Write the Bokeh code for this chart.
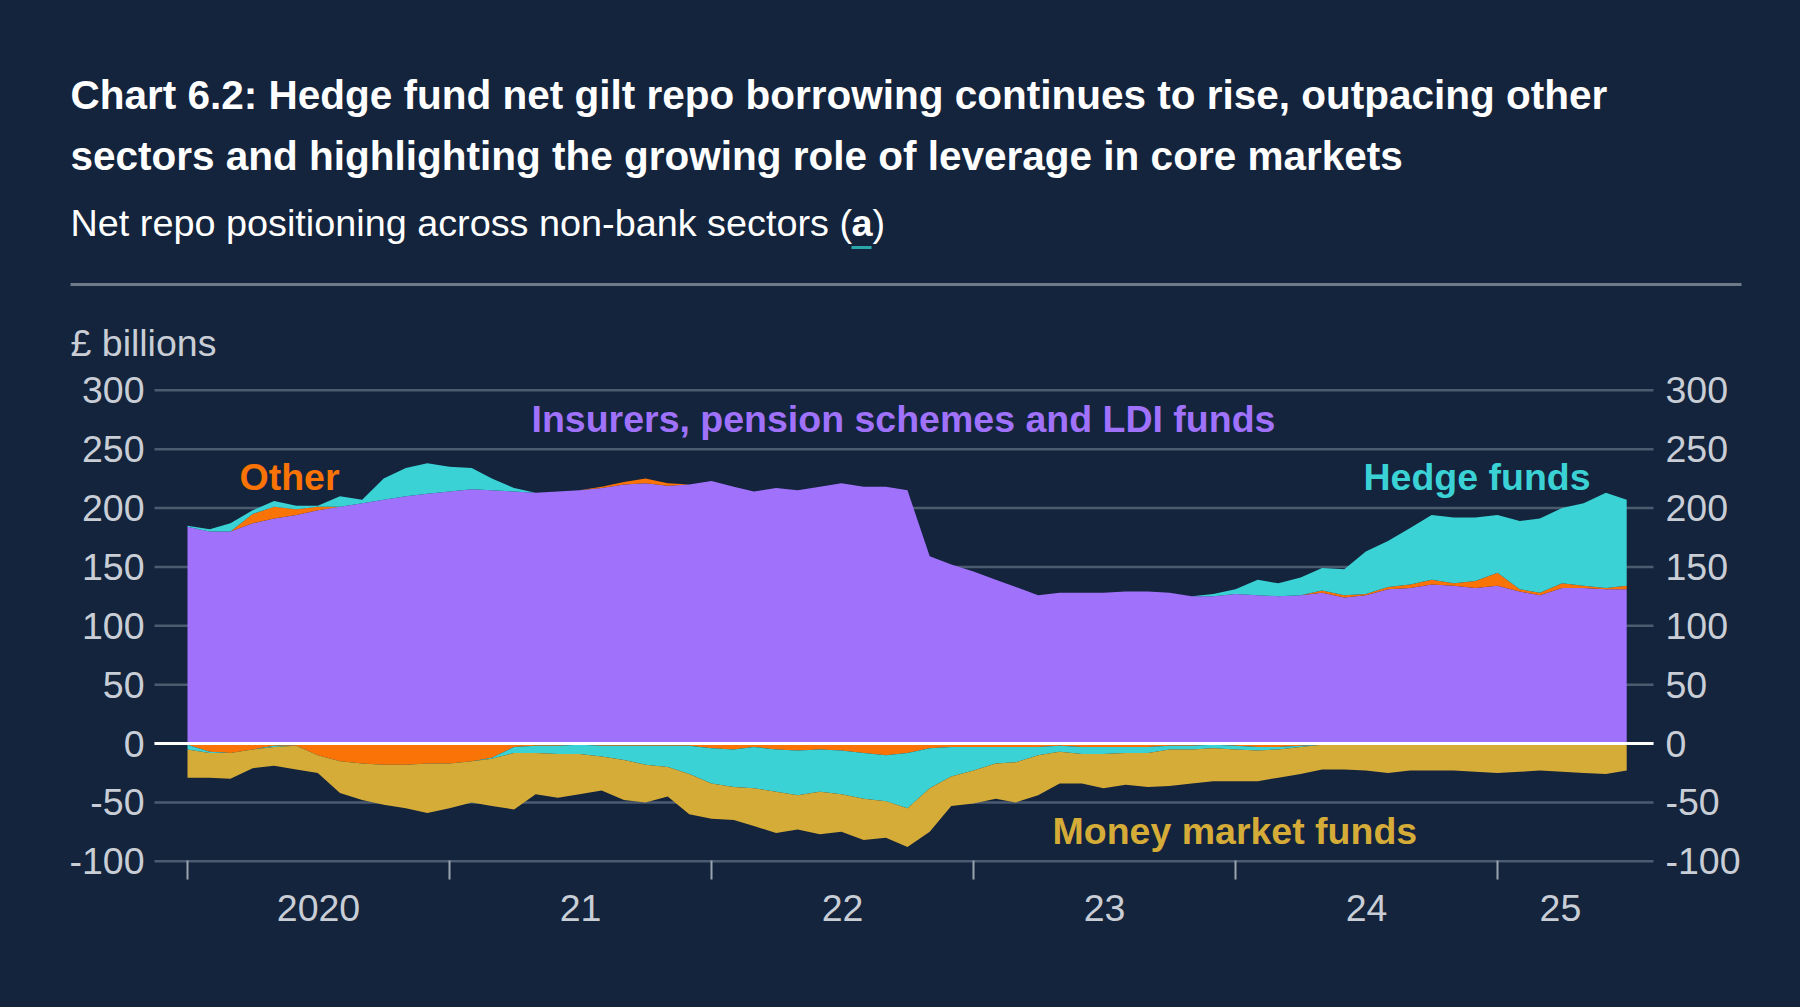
import pandas as pd

from bokeh.core.properties import value
from bokeh.embed import file_html
from bokeh.resources import INLINE
from bokeh.models import ColumnDataSource, Range1d
from bokeh.plotting import figure

# Monthly readings, Jan 2020 to end of Jun 2025, £ billions
dates = list(pd.date_range("2020-01-01", "2025-06-01", freq="MS")) + [pd.Timestamp("2025-06-30")]

# insurers, pension schemes and LDI funds (net borrowing, positive)
insurers = [184, 180, 180, 187, 191, 194, 198, 201, 204, 207, 210, 212,
            214, 216, 215, 214, 213, 214, 215, 217, 220, 221, 219, 220,
            223, 218, 214, 217, 215, 218, 221, 218, 218, 215, 159, 152,
            146, 139, 133, 126, 128, 128, 128, 129, 129, 128, 125, 125,
            127, 126, 125, 126, 128, 124, 126, 131, 132, 135, 134, 132,
            134, 129, 126, 132, 132, 131, 131]
other_pos = [0, 0, 0, 8, 10, 5, 3, 0, 0, 0, 0, 0,
             0, 0, 0, 0, 0, 0, 0, 1, 2, 4, 2, 0,
             0, 0, 0, 0, 0, 0, 0, 0, 0, 0, 0, 0,
             0, 0, 0, 0, 0, 0, 0, 0, 0, 0, 0, 0,
             0, 0, 0, 0, 2, 2, 1, 2, 3, 4, 2, 6,
             11, 2, 2, 4, 2, 1, 3]
hedge_pos = [1, 2, 7, 3, 5, 3, 1, 9, 3, 18, 24, 26,
             21, 18, 10, 3, 0, 0, 0, 0, 0, 0, 0, 0,
             0, 0, 0, 0, 0, 0, 0, 0, 0, 0, 0, 0,
             0, 0, 0, 0, 0, 0, 0, 0, 0, 0, 0, 2,
             4, 13, 11, 15, 19, 22, 36, 39, 48, 55, 56, 54,
             49, 58, 63, 64, 70, 81, 73]
other_neg = [-1, -7, -8, -5, -2, -2, -10, -15, -17, -18, -18, -17,
             -17, -15, -12, -3, -2, -2, -1, -2, -2, -2, -2, -2,
             -4, -5, -3, -5, -6, -5, -6, -8, -10, -8, -4, -3,
             -3, -3, -3, -3, -2, -3, -3, -3, -3, -2, -2, -1,
             -2, -3, -3, -2, -1, -1, 0, 0, 0, 0, 0, 0,
             0, 0, 0, 0, 0, 0, 0]
hedge_neg = [-4, -1, 0, 0, -1, 0, 0, 0, 0, 0, 0, 0,
             0, 0, -1, -5, -6, -7, -8, -9, -12, -16, -18, -24,
             -30, -32, -35, -36, -38, -36, -37, -39, -39, -47, -34, -25,
             -20, -14, -13, -7, -5, -6, -6, -5, -5, -3, -3, -3,
             -3, -3, -2, -1, 0, 0, 0, 0, 0, 0, 0, 0,
             0, 0, 0, 0, 0, 0, 0]
money_market = [-24, -21, -22, -16, -16, -20, -15, -27, -31, -34, -37, -42,
                -38, -35, -40, -48, -35, -37, -34, -29, -34, -32, -25, -34,
                -30, -28, -32, -35, -29, -36, -32, -35, -31, -33, -37, -25,
                -28, -30, -34, -34, -27, -25, -29, -27, -29, -31, -29, -28,
                -27, -26, -24, -23, -21, -21, -23, -25, -23, -23, -23, -24,
                -25, -24, -23, -24, -25, -26, -23]

y_ticks = [-100, -50, 0, 50, 100, 150, 200, 250, 300]
year_ticks = [2020, 2021, 2022, 2023, 2024, 2025]
year_labels = ["2020", "21", "22", "23", "24", "25"]
year_label_pos = [2020.5, 2021.5, 2022.5, 2023.5, 2024.5, 2025.24]

BG = "#13243c"
PURPLE = "#a072fc"
ORANGE = "#fa7306"
TEAL = "#3bd2d6"
GOLD = "#d6ac38"
GRID = "#4b5b70"
TICK_TEXT = "#c9ced6"
FONT = value("Liberation Sans")

W, H = 1792, 999
PX_PER_YEAR = 262.0
PX_PER_UNIT = 1.1775
X_2020 = 187.0      # pixel column of 1 Jan 2020
Y_ZERO = 743.0      # pixel row of the zero line
LEFT, RIGHT = 154, 1653  # extent of the gridlines

dt = pd.DatetimeIndex(dates)
xs = dt.year + (dt.dayofyear - 1) / (365 + dt.is_leap_year.astype(int))

source = ColumnDataSource(data=dict(
    x=list(xs), ins=insurers, oth_pos=other_pos, hf_pos=hedge_pos,
    oth_neg=other_neg, hf_neg=hedge_neg, mmf=money_market,
))

x0 = 2020 - X_2020 / PX_PER_YEAR
p = figure(width=W, height=H, title=None,
           x_range=Range1d(x0, x0 + W / PX_PER_YEAR),
           y_range=Range1d((Y_ZERO - H) / PX_PER_UNIT, Y_ZERO / PX_PER_UNIT),
           x_axis_type=None, y_axis_type=None, output_backend="svg",
           toolbar_location=None, min_border=0)
p.grid.visible = False
p.outline_line_color = None
p.background_fill_color = BG
p.border_fill_color = BG
# pixel ranges for layout items (titles, rules, tick text)
p.extra_x_ranges = {"px": Range1d(0, W)}
p.extra_y_ranges = {"py": Range1d(H, 0)}

# header
p.text(x=[70], y=[94], text=["Chart 6.2: Hedge fund net gilt repo borrowing continues to rise, outpacing other"],
       x_range_name="px", y_range_name="py", text_font=FONT, text_font_style="bold",
       text_font_size="40.5px", text_color="white", text_baseline="middle")
p.text(x=[70], y=[155], text=["sectors and highlighting the growing role of leverage in core markets"],
       x_range_name="px", y_range_name="py", text_font=FONT, text_font_style="bold",
       text_font_size="40.5px", text_color="white", text_baseline="middle")
p.text(x=[70], y=[222], text=["Net repo positioning across non-bank sectors ("],
       x_range_name="px", y_range_name="py", text_font=FONT, text_font_size="37.8px",
       text_color="white", text_baseline="middle")
p.text(x=[851], y=[222], text=["a"], x_range_name="px", y_range_name="py", text_font=FONT,
       text_font_style="bold", text_font_size="37.8px", text_color="white", text_baseline="middle")
p.text(x=[872], y=[222], text=[")"], x_range_name="px", y_range_name="py", text_font=FONT,
       text_font_size="37.8px", text_color="white", text_baseline="middle")
p.segment(x0=[851], y0=[247], x1=[871], y1=[247], x_range_name="px", y_range_name="py",
          line_color="#2aa7ab", line_width=3)
p.segment(x0=[70], y0=[284], x1=[1741], y1=[284], x_range_name="px", y_range_name="py",
          line_color="#6e7a88", line_width=3)

p.text(x=[70], y=[342], text=["£ billions"], x_range_name="px", y_range_name="py",
       text_font=FONT, text_font_size="37.5px", text_color=TICK_TEXT, text_baseline="middle")

# gridlines and value axes (both sides)
p.segment(x0=LEFT, x1=RIGHT, y0=y_ticks, y1=y_ticks, x_range_name="px",
          line_color=GRID, line_width=2.5)
tick_text = [str(t) for t in y_ticks]
p.text(x=[144] * len(y_ticks), y=y_ticks, text=tick_text, x_range_name="px",
       text_font=FONT, text_font_size="37.5px", text_color=TICK_TEXT,
       text_align="right", text_baseline="middle")
p.text(x=[1665] * len(y_ticks), y=y_ticks, text=tick_text, x_range_name="px",
       text_font=FONT, text_font_size="37.5px", text_color=TICK_TEXT,
       text_align="left", text_baseline="middle")

# stacked areas: borrowing above zero, lending below
p.varea_stack(stackers=["ins", "oth_pos", "hf_pos"], x="x",
              color=[PURPLE, ORANGE, TEAL], source=source)
p.varea_stack(stackers=["oth_neg", "hf_neg", "mmf"], x="x",
              color=[ORANGE, TEAL, GOLD], source=source)

p.segment(x0=[LEFT], x1=[RIGHT], y0=[0], y1=[0], x_range_name="px",
          line_color="white", line_width=3)

# year axis: ticks at year starts, labels mid-year
p.segment(x0=year_ticks, x1=year_ticks, y0=[860] * len(year_ticks), y1=[879] * len(year_ticks),
          y_range_name="py", line_color="#9aa4b0", line_width=2)
p.text(x=year_label_pos, y=[907] * len(year_labels), text=year_labels, y_range_name="py",
       text_font=FONT, text_font_size="37.5px", text_color=TICK_TEXT,
       text_align="center", text_baseline="middle")

# series labels
series_names = ["Insurers, pension schemes and LDI funds", "Other", "Hedge funds", "Money market funds"]
series_colors = [PURPLE, ORANGE, TEAL, GOLD]
label_px = [531, 239, 1363, 1052]
label_py = [418, 476, 476, 830]
p.text(x=label_px, y=label_py, text=series_names, x_range_name="px", y_range_name="py",
       text_font=FONT, text_font_style="bold", text_font_size="37.5px",
       text_color=series_colors, text_baseline="middle")

html = file_html(p, INLINE, title="Chart 6.2")
html = html.replace("</head>", "<style>html, body { background: %s; }</style></head>" % BG, 1)
open("out.html", "w").write(html)
